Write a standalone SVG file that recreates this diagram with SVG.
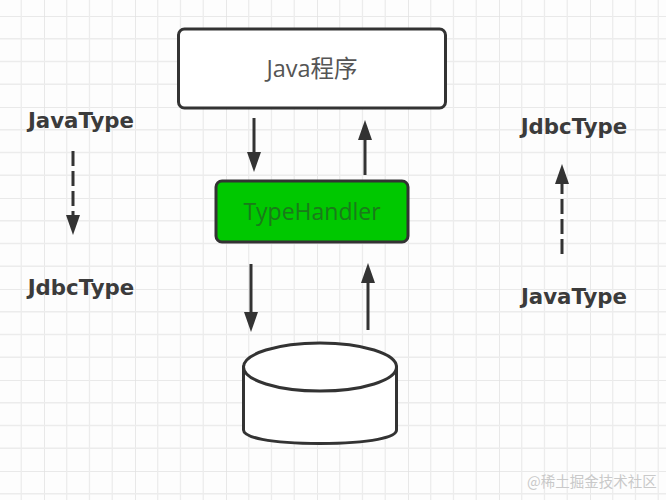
<svg xmlns="http://www.w3.org/2000/svg" width="666" height="500" viewBox="0 0 666 500">
<style>
.lbl{font-family:"DejaVu Sans","Noto Sans",sans-serif;font-weight:700;font-size:21.300px;fill:#3b3b3b;text-anchor:middle}
.name{font-family:"Open Sans","Noto Sans CJK SC",sans-serif;text-anchor:middle}
.cn{fill:none;stroke:#333;stroke-width:3}
.dash{stroke-dasharray:15 5}
.shape{stroke:#333;stroke-width:3}
</style>
<defs>
<pattern id="grid" patternUnits="userSpaceOnUse" x="-47" y="16" width="91" height="91">
<path d="M0 0V91M0 0H91" fill="none" stroke="#e2e2e2" stroke-width="1.6"/>
<path d="M22.75 0V91M45.5 0V91M68.25 0V91M0 22.75H91M0 45.5H91M0 68.25H91" fill="none" stroke="#ececec" stroke-width="1.3"/>
</pattern>
<marker id="ah" markerUnits="userSpaceOnUse" viewBox="0 0 20 20" markerWidth="20" markerHeight="20" refX="2" refY="10" orient="auto-start-reverse" overflow="visible">
<path d="M0 3L20 10L0 17Z" fill="#333"/>
</marker>
</defs>
<rect width="666" height="500" fill="#fdfdfd"/>
<rect width="666" height="500" fill="url(#grid)"/>
<g id="connectors">
<path class="cn" d="M254 118V154" marker-end="url(#ah)"/>
<path class="cn" d="M365 175V138" marker-end="url(#ah)"/>
<path class="cn" d="M251 264V314" marker-end="url(#ah)"/>
<path class="cn" d="M368 330V281" marker-end="url(#ah)"/>
<path class="cn dash" d="M73 151V217" marker-end="url(#ah)"/>
<path class="cn dash" d="M562 254V182" marker-end="url(#ah)"/>
</g>
<g id="java-program">
<rect class="shape" x="178.500" y="29" width="267" height="79" rx="6" fill="#fff"/>
<text class="name" x="312" y="77" font-size="23.500" fill="#555">Java程序</text>
</g>
<g id="type-handler">
<rect class="shape" x="216" y="181" width="192" height="61" rx="6" fill="#00c800"/>
<text class="name" x="312" y="220" font-size="23" fill="#1a7a1a">TypeHandler</text>
</g>
<g id="database">
<path class="shape" d="M243.500 367V430C243.500 437 268 443.500 320 443.500S396.500 437 396.500 430V367Z" fill="#fff"/>
<ellipse class="shape" cx="320" cy="367" rx="76.500" ry="24" fill="#fff"/>
</g>
<g id="label-left-top"><text class="lbl" x="81" y="128">JavaType</text></g>
<g id="label-left-bottom"><text class="lbl" x="81" y="295">JdbcType</text></g>
<g id="label-right-top"><text class="lbl" x="574" y="134">JdbcType</text></g>
<g id="label-right-bottom"><text class="lbl" x="574" y="304">JavaType</text></g>
<g id="watermark"><text x="527" y="487" font-family="'Noto Sans CJK SC',sans-serif" font-size="14.500" fill="#c9c9c9">@稀土掘金技术社区</text></g>
</svg>
